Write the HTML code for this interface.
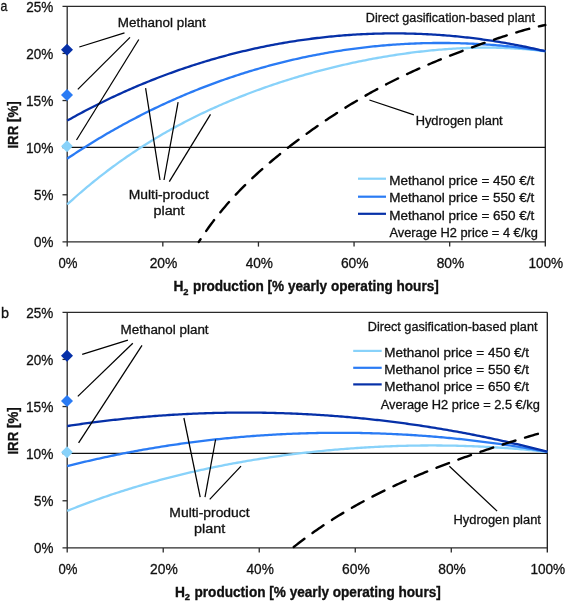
<!DOCTYPE html>
<html><head><meta charset="utf-8"><style>
html,body{margin:0;padding:0;background:#fff;width:567px;height:602px;overflow:hidden}
svg{display:block;will-change:transform}
text{font-family:"Liberation Sans",sans-serif;-webkit-font-smoothing:antialiased}
</style></head><body>
<svg width="567" height="602" viewBox="0 0 567 602" font-family="Liberation Sans, sans-serif">
<rect width="567" height="602" fill="#fff"/>
<line x1="62.5" y1="6.3" x2="545.3" y2="6.3" stroke="#2a2a2a" stroke-width="1.2"/>
<line x1="545.3" y1="6.3" x2="545.3" y2="246.6" stroke="#1a1a1a" stroke-width="1.3"/>
<line x1="67.2" y1="6.3" x2="67.2" y2="246.6" stroke="#2a2a2a" stroke-width="1.3"/>
<line x1="62.5" y1="241.9" x2="545.3" y2="241.9" stroke="#2a2a2a" stroke-width="1.3"/>
<line x1="67.2" y1="147.41" x2="545.3" y2="147.41" stroke="#111" stroke-width="1.15"/>
<line x1="62.5" y1="194.78" x2="67.2" y2="194.78" stroke="#2a2a2a" stroke-width="1.3"/>
<line x1="62.5" y1="147.66000000000003" x2="67.2" y2="147.66000000000003" stroke="#2a2a2a" stroke-width="1.3"/>
<line x1="62.5" y1="100.54000000000002" x2="67.2" y2="100.54000000000002" stroke="#2a2a2a" stroke-width="1.3"/>
<line x1="62.5" y1="53.420000000000016" x2="67.2" y2="53.420000000000016" stroke="#2a2a2a" stroke-width="1.3"/>
<line x1="162.82" y1="241.9" x2="162.82" y2="246.6" stroke="#2a2a2a" stroke-width="1.3"/>
<line x1="258.44" y1="241.9" x2="258.44" y2="246.6" stroke="#2a2a2a" stroke-width="1.3"/>
<line x1="354.05999999999995" y1="241.9" x2="354.05999999999995" y2="246.6" stroke="#2a2a2a" stroke-width="1.3"/>
<line x1="449.67999999999995" y1="241.9" x2="449.67999999999995" y2="246.6" stroke="#2a2a2a" stroke-width="1.3"/>
<text x="33.98" y="247.10" font-size="14.5" textLength="19.40" lengthAdjust="spacingAndGlyphs" fill="#111" stroke="#111" stroke-width="0.3">0%</text>
<text x="33.96" y="199.98" font-size="14.5" textLength="19.42" lengthAdjust="spacingAndGlyphs" fill="#111" stroke="#111" stroke-width="0.3">5%</text>
<text x="25.96" y="152.86" font-size="14.5" textLength="27.43" lengthAdjust="spacingAndGlyphs" fill="#111" stroke="#111" stroke-width="0.3">10%</text>
<text x="25.96" y="105.74" font-size="14.5" textLength="27.43" lengthAdjust="spacingAndGlyphs" fill="#111" stroke="#111" stroke-width="0.3">15%</text>
<text x="26.32" y="58.62" font-size="14.5" textLength="27.06" lengthAdjust="spacingAndGlyphs" fill="#111" stroke="#111" stroke-width="0.3">20%</text>
<text x="26.32" y="11.50" font-size="14.5" textLength="27.06" lengthAdjust="spacingAndGlyphs" fill="#111" stroke="#111" stroke-width="0.3">25%</text>
<text x="58.49" y="268.20" font-size="14.5" textLength="18.98" lengthAdjust="spacingAndGlyphs" fill="#111" stroke="#111" stroke-width="0.3">0%</text>
<text x="149.67" y="268.20" font-size="14.5" textLength="27.69" lengthAdjust="spacingAndGlyphs" fill="#111" stroke="#111" stroke-width="0.3">20%</text>
<text x="245.68" y="268.20" font-size="14.5" textLength="27.30" lengthAdjust="spacingAndGlyphs" fill="#111" stroke="#111" stroke-width="0.3">40%</text>
<text x="340.91" y="268.20" font-size="14.5" textLength="27.70" lengthAdjust="spacingAndGlyphs" fill="#111" stroke="#111" stroke-width="0.3">60%</text>
<text x="436.63" y="268.20" font-size="14.5" textLength="27.59" lengthAdjust="spacingAndGlyphs" fill="#111" stroke="#111" stroke-width="0.3">80%</text>
<text x="528.41" y="268.20" font-size="14.5" textLength="34.82" lengthAdjust="spacingAndGlyphs" fill="#111" stroke="#111" stroke-width="0.3">100%</text>
<path d="M67.20,204.47 L69.20,202.64 L71.20,200.83 L73.20,199.03 L75.20,197.25 L77.20,195.49 L79.20,193.75 L81.20,192.02 L83.20,190.31 L85.20,188.61 L87.20,186.93 L89.20,185.27 L91.20,183.62 L93.20,181.99 L95.20,180.38 L97.20,178.78 L99.20,177.20 L101.20,175.63 L103.20,174.08 L105.20,172.54 L107.20,171.01 L109.20,169.51 L111.20,168.01 L113.20,166.53 L115.20,165.07 L117.20,163.62 L119.20,162.18 L121.20,160.76 L123.20,159.35 L125.20,157.95 L127.20,156.57 L129.20,155.20 L131.20,153.85 L133.20,152.51 L135.20,151.18 L137.20,149.86 L139.20,148.56 L141.20,147.27 L143.20,145.99 L145.20,144.72 L147.20,143.47 L149.20,142.22 L151.20,140.99 L153.20,139.78 L155.20,138.57 L157.20,137.38 L159.20,136.19 L161.20,135.02 L163.20,133.86 L165.20,132.71 L167.20,131.58 L169.20,130.45 L171.20,129.33 L173.20,128.23 L175.20,127.13 L177.20,126.05 L179.20,124.98 L181.20,123.91 L183.20,122.86 L185.20,121.82 L187.20,120.78 L189.20,119.76 L191.20,118.75 L193.20,117.74 L195.20,116.75 L197.20,115.77 L199.20,114.79 L201.20,113.83 L203.20,112.87 L205.20,111.93 L207.20,110.99 L209.20,110.06 L211.20,109.14 L213.20,108.23 L215.20,107.33 L217.20,106.44 L219.20,105.55 L221.20,104.68 L223.20,103.81 L225.20,102.95 L227.20,102.10 L229.20,101.26 L231.20,100.42 L233.20,99.60 L235.20,98.78 L237.20,97.97 L239.20,97.17 L241.20,96.37 L243.20,95.58 L245.20,94.81 L247.20,94.03 L249.20,93.27 L251.20,92.51 L253.20,91.76 L255.20,91.02 L257.20,90.29 L259.20,89.56 L261.20,88.84 L263.20,88.13 L265.20,87.42 L267.20,86.72 L269.20,86.03 L271.20,85.35 L273.20,84.67 L275.20,84.00 L277.20,83.33 L279.20,82.68 L281.20,82.03 L283.20,81.38 L285.20,80.74 L287.20,80.11 L289.20,79.49 L291.20,78.87 L293.20,78.26 L295.20,77.65 L297.20,77.05 L299.20,76.46 L301.20,75.87 L303.20,75.29 L305.20,74.72 L307.20,74.15 L309.20,73.59 L311.20,73.03 L313.20,72.49 L315.20,71.94 L317.20,71.40 L319.20,70.87 L321.20,70.35 L323.20,69.83 L325.20,69.31 L327.20,68.81 L329.20,68.31 L331.20,67.81 L333.20,67.32 L335.20,66.84 L337.20,66.36 L339.20,65.88 L341.20,65.42 L343.20,64.96 L345.20,64.50 L347.20,64.05 L349.20,63.61 L351.20,63.17 L353.20,62.74 L355.20,62.31 L357.20,61.89 L359.20,61.48 L361.20,61.07 L363.20,60.67 L365.20,60.27 L367.20,59.88 L369.20,59.49 L371.20,59.11 L373.20,58.74 L375.20,58.37 L377.20,58.00 L379.20,57.65 L381.20,57.30 L383.20,56.95 L385.20,56.61 L387.20,56.28 L389.20,55.95 L391.20,55.63 L393.20,55.31 L395.20,55.00 L397.20,54.70 L399.20,54.40 L401.20,54.10 L403.20,53.82 L405.20,53.54 L407.20,53.26 L409.20,52.99 L411.20,52.73 L413.20,52.48 L415.20,52.23 L417.20,51.98 L419.20,51.74 L421.20,51.51 L423.20,51.29 L425.20,51.07 L427.20,50.85 L429.20,50.65 L431.20,50.45 L433.20,50.25 L435.20,50.07 L437.20,49.89 L439.20,49.71 L441.20,49.54 L443.20,49.38 L445.20,49.23 L447.20,49.08 L449.20,48.94 L451.20,48.81 L453.20,48.68 L455.20,48.56 L457.20,48.45 L459.20,48.34 L461.20,48.24 L463.20,48.15 L465.20,48.07 L467.20,47.99 L469.20,47.92 L471.20,47.86 L473.20,47.81 L475.20,47.76 L477.20,47.72 L479.20,47.69 L481.20,47.66 L483.20,47.65 L485.20,47.64 L487.20,47.64 L489.20,47.64 L491.20,47.66 L493.20,47.68 L495.20,47.71 L497.20,47.75 L499.20,47.80 L501.20,47.86 L503.20,47.92 L505.20,48.00 L507.20,48.08 L509.20,48.17 L511.20,48.27 L513.20,48.38 L515.20,48.50 L517.20,48.62 L519.20,48.76 L521.20,48.91 L523.20,49.06 L525.20,49.22 L527.20,49.40 L529.20,49.58 L531.20,49.78 L533.20,49.98 L535.20,50.19 L537.20,50.41 L539.20,50.65 L541.20,50.89 L543.20,51.14 L545.20,51.41 L545.30,51.42" fill="none" stroke="#88d2fa" stroke-width="2.3" stroke-linejoin="round"/>
<path d="M67.20,158.67 L69.20,157.33 L71.20,156.00 L73.20,154.68 L75.20,153.37 L77.20,152.06 L79.20,150.77 L81.20,149.48 L83.20,148.21 L85.20,146.94 L87.20,145.69 L89.20,144.44 L91.20,143.20 L93.20,141.97 L95.20,140.75 L97.20,139.54 L99.20,138.33 L101.20,137.14 L103.20,135.96 L105.20,134.78 L107.20,133.61 L109.20,132.45 L111.20,131.30 L113.20,130.16 L115.20,129.03 L117.20,127.91 L119.20,126.79 L121.20,125.68 L123.20,124.59 L125.20,123.50 L127.20,122.42 L129.20,121.34 L131.20,120.28 L133.20,119.22 L135.20,118.18 L137.20,117.14 L139.20,116.11 L141.20,115.08 L143.20,114.07 L145.20,113.06 L147.20,112.07 L149.20,111.08 L151.20,110.09 L153.20,109.12 L155.20,108.16 L157.20,107.20 L159.20,106.25 L161.20,105.31 L163.20,104.38 L165.20,103.45 L167.20,102.53 L169.20,101.62 L171.20,100.72 L173.20,99.83 L175.20,98.94 L177.20,98.07 L179.20,97.20 L181.20,96.33 L183.20,95.48 L185.20,94.63 L187.20,93.79 L189.20,92.96 L191.20,92.14 L193.20,91.32 L195.20,90.51 L197.20,89.71 L199.20,88.92 L201.20,88.13 L203.20,87.35 L205.20,86.58 L207.20,85.82 L209.20,85.06 L211.20,84.31 L213.20,83.57 L215.20,82.83 L217.20,82.11 L219.20,81.39 L221.20,80.67 L223.20,79.97 L225.20,79.27 L227.20,78.58 L229.20,77.90 L231.20,77.22 L233.20,76.55 L235.20,75.89 L237.20,75.23 L239.20,74.59 L241.20,73.95 L243.20,73.31 L245.20,72.68 L247.20,72.07 L249.20,71.45 L251.20,70.85 L253.20,70.25 L255.20,69.66 L257.20,69.07 L259.20,68.49 L261.20,67.92 L263.20,67.36 L265.20,66.80 L267.20,66.25 L269.20,65.71 L271.20,65.17 L273.20,64.64 L275.20,64.12 L277.20,63.60 L279.20,63.09 L281.20,62.59 L283.20,62.09 L285.20,61.60 L287.20,61.12 L289.20,60.64 L291.20,60.17 L293.20,59.71 L295.20,59.25 L297.20,58.80 L299.20,58.36 L301.20,57.92 L303.20,57.49 L305.20,57.06 L307.20,56.65 L309.20,56.24 L311.20,55.83 L313.20,55.43 L315.20,55.04 L317.20,54.66 L319.20,54.28 L321.20,53.91 L323.20,53.54 L325.20,53.18 L327.20,52.83 L329.20,52.48 L331.20,52.14 L333.20,51.81 L335.20,51.48 L337.20,51.16 L339.20,50.85 L341.20,50.54 L343.20,50.23 L345.20,49.94 L347.20,49.65 L349.20,49.37 L351.20,49.09 L353.20,48.82 L355.20,48.55 L357.20,48.30 L359.20,48.04 L361.20,47.80 L363.20,47.56 L365.20,47.32 L367.20,47.10 L369.20,46.88 L371.20,46.66 L373.20,46.45 L375.20,46.25 L377.20,46.05 L379.20,45.86 L381.20,45.68 L383.20,45.50 L385.20,45.33 L387.20,45.16 L389.20,45.00 L391.20,44.85 L393.20,44.70 L395.20,44.56 L397.20,44.42 L399.20,44.29 L401.20,44.17 L403.20,44.05 L405.20,43.94 L407.20,43.84 L409.20,43.74 L411.20,43.65 L413.20,43.56 L415.20,43.48 L417.20,43.40 L419.20,43.33 L421.20,43.27 L423.20,43.22 L425.20,43.16 L427.20,43.12 L429.20,43.08 L431.20,43.05 L433.20,43.02 L435.20,43.00 L437.20,42.99 L439.20,42.98 L441.20,42.98 L443.20,42.98 L445.20,42.99 L447.20,43.00 L449.20,43.02 L451.20,43.05 L453.20,43.09 L455.20,43.12 L457.20,43.17 L459.20,43.22 L461.20,43.28 L463.20,43.34 L465.20,43.41 L467.20,43.49 L469.20,43.57 L471.20,43.65 L473.20,43.75 L475.20,43.85 L477.20,43.95 L479.20,44.06 L481.20,44.18 L483.20,44.30 L485.20,44.43 L487.20,44.57 L489.20,44.71 L491.20,44.86 L493.20,45.01 L495.20,45.17 L497.20,45.34 L499.20,45.51 L501.20,45.69 L503.20,45.87 L505.20,46.06 L507.20,46.25 L509.20,46.46 L511.20,46.66 L513.20,46.88 L515.20,47.10 L517.20,47.32 L519.20,47.56 L521.20,47.79 L523.20,48.04 L525.20,48.29 L527.20,48.54 L529.20,48.81 L531.20,49.08 L533.20,49.35 L535.20,49.63 L537.20,49.92 L539.20,50.21 L541.20,50.51 L543.20,50.82 L545.20,51.13 L545.30,51.14" fill="none" stroke="#2a7bf4" stroke-width="2.3" stroke-linejoin="round"/>
<path d="M67.20,120.62 L69.20,119.50 L71.20,118.38 L73.20,117.28 L75.20,116.18 L77.20,115.09 L79.20,114.02 L81.20,112.94 L83.20,111.88 L85.20,110.82 L87.20,109.78 L89.20,108.74 L91.20,107.71 L93.20,106.68 L95.20,105.67 L97.20,104.66 L99.20,103.66 L101.20,102.67 L103.20,101.69 L105.20,100.71 L107.20,99.75 L109.20,98.79 L111.20,97.83 L113.20,96.89 L115.20,95.95 L117.20,95.03 L119.20,94.10 L121.20,93.19 L123.20,92.29 L125.20,91.39 L127.20,90.50 L129.20,89.61 L131.20,88.74 L133.20,87.87 L135.20,87.01 L137.20,86.16 L139.20,85.31 L141.20,84.48 L143.20,83.65 L145.20,82.82 L147.20,82.01 L149.20,81.20 L151.20,80.40 L153.20,79.61 L155.20,78.82 L157.20,78.04 L159.20,77.27 L161.20,76.51 L163.20,75.75 L165.20,75.00 L167.20,74.26 L169.20,73.52 L171.20,72.80 L173.20,72.08 L175.20,71.36 L177.20,70.66 L179.20,69.96 L181.20,69.26 L183.20,68.58 L185.20,67.90 L187.20,67.23 L189.20,66.57 L191.20,65.91 L193.20,65.26 L195.20,64.62 L197.20,63.98 L199.20,63.35 L201.20,62.73 L203.20,62.11 L205.20,61.50 L207.20,60.90 L209.20,60.31 L211.20,59.72 L213.20,59.14 L215.20,58.56 L217.20,58.00 L219.20,57.44 L221.20,56.88 L223.20,56.33 L225.20,55.79 L227.20,55.26 L229.20,54.73 L231.20,54.21 L233.20,53.70 L235.20,53.19 L237.20,52.69 L239.20,52.20 L241.20,51.71 L243.20,51.23 L245.20,50.76 L247.20,50.29 L249.20,49.83 L251.20,49.38 L253.20,48.93 L255.20,48.49 L257.20,48.05 L259.20,47.63 L261.20,47.20 L263.20,46.79 L265.20,46.38 L267.20,45.98 L269.20,45.58 L271.20,45.19 L273.20,44.81 L275.20,44.44 L277.20,44.07 L279.20,43.70 L281.20,43.35 L283.20,43.00 L285.20,42.65 L287.20,42.31 L289.20,41.98 L291.20,41.66 L293.20,41.34 L295.20,41.03 L297.20,40.72 L299.20,40.42 L301.20,40.13 L303.20,39.84 L305.20,39.56 L307.20,39.29 L309.20,39.02 L311.20,38.76 L313.20,38.51 L315.20,38.26 L317.20,38.01 L319.20,37.78 L321.20,37.55 L323.20,37.32 L325.20,37.11 L327.20,36.89 L329.20,36.69 L331.20,36.49 L333.20,36.30 L335.20,36.11 L337.20,35.93 L339.20,35.76 L341.20,35.59 L343.20,35.43 L345.20,35.27 L347.20,35.12 L349.20,34.98 L351.20,34.85 L353.20,34.71 L355.20,34.59 L357.20,34.47 L359.20,34.36 L361.20,34.26 L363.20,34.16 L365.20,34.06 L367.20,33.98 L369.20,33.89 L371.20,33.82 L373.20,33.75 L375.20,33.69 L377.20,33.63 L379.20,33.58 L381.20,33.54 L383.20,33.50 L385.20,33.47 L387.20,33.44 L389.20,33.42 L391.20,33.41 L393.20,33.40 L395.20,33.40 L397.20,33.41 L399.20,33.42 L401.20,33.44 L403.20,33.46 L405.20,33.49 L407.20,33.53 L409.20,33.57 L411.20,33.62 L413.20,33.68 L415.20,33.74 L417.20,33.80 L419.20,33.88 L421.20,33.96 L423.20,34.04 L425.20,34.13 L427.20,34.23 L429.20,34.34 L431.20,34.45 L433.20,34.56 L435.20,34.69 L437.20,34.82 L439.20,34.95 L441.20,35.09 L443.20,35.24 L445.20,35.40 L447.20,35.56 L449.20,35.72 L451.20,35.90 L453.20,36.07 L455.20,36.26 L457.20,36.45 L459.20,36.65 L461.20,36.85 L463.20,37.06 L465.20,37.28 L467.20,37.50 L469.20,37.73 L471.20,37.97 L473.20,38.21 L475.20,38.46 L477.20,38.71 L479.20,38.98 L481.20,39.24 L483.20,39.52 L485.20,39.80 L487.20,40.08 L489.20,40.38 L491.20,40.67 L493.20,40.98 L495.20,41.29 L497.20,41.61 L499.20,41.94 L501.20,42.27 L503.20,42.60 L505.20,42.95 L507.20,43.30 L509.20,43.66 L511.20,44.02 L513.20,44.39 L515.20,44.77 L517.20,45.15 L519.20,45.54 L521.20,45.94 L523.20,46.34 L525.20,46.75 L527.20,47.16 L529.20,47.59 L531.20,48.01 L533.20,48.45 L535.20,48.89 L537.20,49.34 L539.20,49.80 L541.20,50.26 L543.20,50.73 L545.20,51.20 L545.30,51.23" fill="none" stroke="#0630a8" stroke-width="2.3" stroke-linejoin="round"/>
<path d="M198.80,241.95 L200.80,238.87 L202.80,235.87 L204.80,232.93 L206.80,230.07 L208.80,227.27 L210.80,224.53 L212.80,221.85 L214.80,219.23 L216.80,216.67 L218.80,214.16 L220.80,211.69 L222.80,209.28 L224.80,206.91 L226.80,204.59 L228.80,202.31 L230.80,200.08 L232.80,197.88 L234.80,195.71 L236.80,193.59 L238.80,191.50 L240.80,189.44 L242.80,187.41 L244.80,185.41 L246.80,183.45 L248.80,181.51 L250.80,179.59 L252.80,177.71 L254.80,175.84 L256.80,174.00 L258.80,172.18 L260.80,170.39 L262.80,168.61 L264.80,166.86 L266.80,165.12 L268.80,163.40 L270.80,161.71 L272.80,160.02 L274.80,158.36 L276.80,156.71 L278.80,155.07 L280.80,153.46 L282.80,151.85 L284.80,150.26 L286.80,148.69 L288.80,147.12 L290.80,145.57 L292.80,144.04 L294.80,142.51 L296.80,141.00 L298.80,139.50 L300.80,138.01 L302.80,136.54 L304.80,135.07 L306.80,133.62 L308.80,132.18 L310.80,130.75 L312.80,129.33 L314.80,127.92 L316.80,126.52 L318.80,125.13 L320.80,123.75 L322.80,122.38 L324.80,121.03 L326.80,119.68 L328.80,118.34 L330.80,117.02 L332.80,115.70 L334.80,114.40 L336.80,113.10 L338.80,111.82 L340.80,110.54 L342.80,109.28 L344.80,108.02 L346.80,106.78 L348.80,105.55 L350.80,104.32 L352.80,103.11 L354.80,101.91 L356.80,100.72 L358.80,99.53 L360.80,98.36 L362.80,97.20 L364.80,96.05 L366.80,94.91 L368.80,93.78 L370.80,92.66 L372.80,91.55 L374.80,90.45 L376.80,89.36 L378.80,88.28 L380.80,87.21 L382.80,86.15 L384.80,85.10 L386.80,84.06 L388.80,83.03 L390.80,82.01 L392.80,81.00 L394.80,80.00 L396.80,79.01 L398.80,78.02 L400.80,77.05 L402.80,76.09 L404.80,75.13 L406.80,74.19 L408.80,73.25 L410.80,72.32 L412.80,71.40 L414.80,70.49 L416.80,69.59 L418.80,68.70 L420.80,67.81 L422.80,66.93 L424.80,66.06 L426.80,65.20 L428.80,64.34 L430.80,63.49 L432.80,62.65 L434.80,61.82 L436.80,60.99 L438.80,60.17 L440.80,59.35 L442.80,58.54 L444.80,57.74 L446.80,56.95 L448.80,56.15 L450.80,55.37 L452.80,54.59 L454.80,53.82 L456.80,53.05 L458.80,52.28 L460.80,51.53 L462.80,50.77 L464.80,50.02 L466.80,49.28 L468.80,48.54 L470.80,47.80 L472.80,47.07 L474.80,46.35 L476.80,45.63 L478.80,44.91 L480.80,44.20 L482.80,43.49 L484.80,42.79 L486.80,42.09 L488.80,41.39 L490.80,40.70 L492.80,40.02 L494.80,39.34 L496.80,38.66 L498.80,38.00 L500.80,37.33 L502.80,36.68 L504.80,36.03 L506.80,35.38 L508.80,34.74 L510.80,34.12 L512.80,33.49 L514.80,32.88 L516.80,32.28 L518.80,31.68 L520.80,31.10 L522.80,30.52 L524.80,29.96 L526.80,29.41 L528.80,28.87 L530.80,28.34 L532.80,27.83 L534.80,27.34 L536.80,26.86 L538.80,26.40 L540.80,25.96 L542.80,25.54 L544.80,25.14 L545.30,25.04" fill="none" stroke="#000" stroke-width="2.4" stroke-linecap="round" stroke-dasharray="13.4 10.0" stroke-dashoffset="10.1"/>
<path d="M61.00,49.65 L67.00,43.65 L73.00,49.65 L67.00,55.65 Z" fill="#0630a8"/>
<path d="M61.00,94.89 L67.00,88.89 L73.00,94.89 L67.00,100.89 Z" fill="#2a7bf4"/>
<path d="M61.10,146.25 L67.00,140.35 L72.90,146.25 L67.00,152.15 Z" fill="#88d2fa"/>
<line x1="62.5" y1="312.3" x2="547.3" y2="312.3" stroke="#2a2a2a" stroke-width="1.2"/>
<line x1="547.3" y1="312.3" x2="547.3" y2="552.6" stroke="#1a1a1a" stroke-width="1.3"/>
<line x1="67.2" y1="312.3" x2="67.2" y2="552.6" stroke="#2a2a2a" stroke-width="1.3"/>
<line x1="62.5" y1="547.9" x2="547.3" y2="547.9" stroke="#2a2a2a" stroke-width="1.3"/>
<line x1="67.2" y1="453.41" x2="547.3" y2="453.41" stroke="#111" stroke-width="1.15"/>
<line x1="62.5" y1="500.78" x2="67.2" y2="500.78" stroke="#2a2a2a" stroke-width="1.3"/>
<line x1="62.5" y1="453.65999999999997" x2="67.2" y2="453.65999999999997" stroke="#2a2a2a" stroke-width="1.3"/>
<line x1="62.5" y1="406.53999999999996" x2="67.2" y2="406.53999999999996" stroke="#2a2a2a" stroke-width="1.3"/>
<line x1="62.5" y1="359.41999999999996" x2="67.2" y2="359.41999999999996" stroke="#2a2a2a" stroke-width="1.3"/>
<line x1="163.21999999999997" y1="547.9" x2="163.21999999999997" y2="552.6" stroke="#2a2a2a" stroke-width="1.3"/>
<line x1="259.23999999999995" y1="547.9" x2="259.23999999999995" y2="552.6" stroke="#2a2a2a" stroke-width="1.3"/>
<line x1="355.25999999999993" y1="547.9" x2="355.25999999999993" y2="552.6" stroke="#2a2a2a" stroke-width="1.3"/>
<line x1="451.2799999999999" y1="547.9" x2="451.2799999999999" y2="552.6" stroke="#2a2a2a" stroke-width="1.3"/>
<text x="33.98" y="553.10" font-size="14.5" textLength="19.40" lengthAdjust="spacingAndGlyphs" fill="#111" stroke="#111" stroke-width="0.3">0%</text>
<text x="33.96" y="505.98" font-size="14.5" textLength="19.42" lengthAdjust="spacingAndGlyphs" fill="#111" stroke="#111" stroke-width="0.3">5%</text>
<text x="25.96" y="458.86" font-size="14.5" textLength="27.43" lengthAdjust="spacingAndGlyphs" fill="#111" stroke="#111" stroke-width="0.3">10%</text>
<text x="25.96" y="411.74" font-size="14.5" textLength="27.43" lengthAdjust="spacingAndGlyphs" fill="#111" stroke="#111" stroke-width="0.3">15%</text>
<text x="26.32" y="364.62" font-size="14.5" textLength="27.06" lengthAdjust="spacingAndGlyphs" fill="#111" stroke="#111" stroke-width="0.3">20%</text>
<text x="26.32" y="317.50" font-size="14.5" textLength="27.06" lengthAdjust="spacingAndGlyphs" fill="#111" stroke="#111" stroke-width="0.3">25%</text>
<text x="58.49" y="574.20" font-size="14.5" textLength="18.98" lengthAdjust="spacingAndGlyphs" fill="#111" stroke="#111" stroke-width="0.3">0%</text>
<text x="150.07" y="574.20" font-size="14.5" textLength="27.69" lengthAdjust="spacingAndGlyphs" fill="#111" stroke="#111" stroke-width="0.3">20%</text>
<text x="246.48" y="574.20" font-size="14.5" textLength="27.30" lengthAdjust="spacingAndGlyphs" fill="#111" stroke="#111" stroke-width="0.3">40%</text>
<text x="342.11" y="574.20" font-size="14.5" textLength="27.70" lengthAdjust="spacingAndGlyphs" fill="#111" stroke="#111" stroke-width="0.3">60%</text>
<text x="438.23" y="574.20" font-size="14.5" textLength="27.59" lengthAdjust="spacingAndGlyphs" fill="#111" stroke="#111" stroke-width="0.3">80%</text>
<text x="530.41" y="574.20" font-size="14.5" textLength="34.82" lengthAdjust="spacingAndGlyphs" fill="#111" stroke="#111" stroke-width="0.3">100%</text>
<path d="M67.20,510.88 L69.20,510.08 L71.20,509.29 L73.20,508.50 L75.20,507.72 L77.20,506.94 L79.20,506.17 L81.20,505.41 L83.20,504.65 L85.20,503.90 L87.20,503.16 L89.20,502.42 L91.20,501.69 L93.20,500.96 L95.20,500.24 L97.20,499.53 L99.20,498.82 L101.20,498.12 L103.20,497.42 L105.20,496.73 L107.20,496.05 L109.20,495.37 L111.20,494.70 L113.20,494.03 L115.20,493.37 L117.20,492.72 L119.20,492.07 L121.20,491.43 L123.20,490.79 L125.20,490.15 L127.20,489.53 L129.20,488.91 L131.20,488.29 L133.20,487.68 L135.20,487.07 L137.20,486.48 L139.20,485.88 L141.20,485.29 L143.20,484.71 L145.20,484.13 L147.20,483.56 L149.20,482.99 L151.20,482.43 L153.20,481.87 L155.20,481.32 L157.20,480.77 L159.20,480.23 L161.20,479.69 L163.20,479.16 L165.20,478.63 L167.20,478.11 L169.20,477.59 L171.20,477.08 L173.20,476.57 L175.20,476.06 L177.20,475.57 L179.20,475.07 L181.20,474.58 L183.20,474.10 L185.20,473.62 L187.20,473.15 L189.20,472.68 L191.20,472.21 L193.20,471.75 L195.20,471.30 L197.20,470.84 L199.20,470.40 L201.20,469.96 L203.20,469.52 L205.20,469.08 L207.20,468.66 L209.20,468.23 L211.20,467.81 L213.20,467.40 L215.20,466.99 L217.20,466.58 L219.20,466.18 L221.20,465.78 L223.20,465.38 L225.20,464.99 L227.20,464.61 L229.20,464.23 L231.20,463.85 L233.20,463.48 L235.20,463.11 L237.20,462.75 L239.20,462.39 L241.20,462.03 L243.20,461.68 L245.20,461.33 L247.20,460.99 L249.20,460.65 L251.20,460.31 L253.20,459.98 L255.20,459.65 L257.20,459.33 L259.20,459.01 L261.20,458.70 L263.20,458.38 L265.20,458.08 L267.20,457.77 L269.20,457.47 L271.20,457.18 L273.20,456.89 L275.20,456.60 L277.20,456.31 L279.20,456.03 L281.20,455.76 L283.20,455.48 L285.20,455.22 L287.20,454.95 L289.20,454.69 L291.20,454.43 L293.20,454.18 L295.20,453.93 L297.20,453.68 L299.20,453.44 L301.20,453.20 L303.20,452.97 L305.20,452.74 L307.20,452.51 L309.20,452.28 L311.20,452.06 L313.20,451.85 L315.20,451.64 L317.20,451.43 L319.20,451.22 L321.20,451.02 L323.20,450.82 L325.20,450.63 L327.20,450.44 L329.20,450.25 L331.20,450.07 L333.20,449.89 L335.20,449.71 L337.20,449.54 L339.20,449.37 L341.20,449.20 L343.20,449.04 L345.20,448.88 L347.20,448.73 L349.20,448.58 L351.20,448.43 L353.20,448.29 L355.20,448.15 L357.20,448.01 L359.20,447.88 L361.20,447.75 L363.20,447.62 L365.20,447.50 L367.20,447.38 L369.20,447.26 L371.20,447.15 L373.20,447.04 L375.20,446.94 L377.20,446.84 L379.20,446.74 L381.20,446.65 L383.20,446.56 L385.20,446.47 L387.20,446.39 L389.20,446.31 L391.20,446.23 L393.20,446.16 L395.20,446.09 L397.20,446.02 L399.20,445.96 L401.20,445.90 L403.20,445.85 L405.20,445.80 L407.20,445.75 L409.20,445.71 L411.20,445.67 L413.20,445.63 L415.20,445.60 L417.20,445.57 L419.20,445.54 L421.20,445.52 L423.20,445.50 L425.20,445.49 L427.20,445.48 L429.20,445.47 L431.20,445.47 L433.20,445.47 L435.20,445.47 L437.20,445.48 L439.20,445.49 L441.20,445.51 L443.20,445.53 L445.20,445.55 L447.20,445.57 L449.20,445.60 L451.20,445.64 L453.20,445.68 L455.20,445.72 L457.20,445.76 L459.20,445.81 L461.20,445.86 L463.20,445.92 L465.20,445.98 L467.20,446.04 L469.20,446.11 L471.20,446.18 L473.20,446.26 L475.20,446.34 L477.20,446.42 L479.20,446.51 L481.20,446.60 L483.20,446.70 L485.20,446.80 L487.20,446.90 L489.20,447.01 L491.20,447.12 L493.20,447.24 L495.20,447.36 L497.20,447.48 L499.20,447.61 L501.20,447.74 L503.20,447.88 L505.20,448.02 L507.20,448.16 L509.20,448.31 L511.20,448.46 L513.20,448.62 L515.20,448.78 L517.20,448.95 L519.20,449.12 L521.20,449.29 L523.20,449.47 L525.20,449.65 L527.20,449.84 L529.20,450.03 L531.20,450.23 L533.20,450.43 L535.20,450.63 L537.20,450.84 L539.20,451.05 L541.20,451.27 L543.20,451.49 L545.20,451.72 L547.20,451.95 L547.30,451.96" fill="none" stroke="#88d2fa" stroke-width="2.3" stroke-linejoin="round"/>
<path d="M67.20,466.18 L69.20,465.67 L71.20,465.16 L73.20,464.65 L75.20,464.15 L77.20,463.66 L79.20,463.17 L81.20,462.68 L83.20,462.20 L85.20,461.73 L87.20,461.25 L89.20,460.78 L91.20,460.32 L93.20,459.86 L95.20,459.41 L97.20,458.95 L99.20,458.51 L101.20,458.06 L103.20,457.63 L105.20,457.19 L107.20,456.76 L109.20,456.34 L111.20,455.92 L113.20,455.50 L115.20,455.08 L117.20,454.68 L119.20,454.27 L121.20,453.87 L123.20,453.47 L125.20,453.08 L127.20,452.69 L129.20,452.31 L131.20,451.93 L133.20,451.55 L135.20,451.18 L137.20,450.81 L139.20,450.45 L141.20,450.09 L143.20,449.73 L145.20,449.38 L147.20,449.03 L149.20,448.69 L151.20,448.35 L153.20,448.01 L155.20,447.68 L157.20,447.35 L159.20,447.02 L161.20,446.70 L163.20,446.39 L165.20,446.07 L167.20,445.76 L169.20,445.46 L171.20,445.16 L173.20,444.86 L175.20,444.57 L177.20,444.28 L179.20,443.99 L181.20,443.71 L183.20,443.43 L185.20,443.15 L187.20,442.88 L189.20,442.61 L191.20,442.35 L193.20,442.09 L195.20,441.84 L197.20,441.58 L199.20,441.33 L201.20,441.09 L203.20,440.85 L205.20,440.61 L207.20,440.38 L209.20,440.15 L211.20,439.92 L213.20,439.70 L215.20,439.48 L217.20,439.26 L219.20,439.05 L221.20,438.84 L223.20,438.64 L225.20,438.44 L227.20,438.24 L229.20,438.05 L231.20,437.86 L233.20,437.67 L235.20,437.49 L237.20,437.31 L239.20,437.13 L241.20,436.96 L243.20,436.79 L245.20,436.62 L247.20,436.46 L249.20,436.30 L251.20,436.15 L253.20,436.00 L255.20,435.85 L257.20,435.71 L259.20,435.57 L261.20,435.43 L263.20,435.30 L265.20,435.17 L267.20,435.04 L269.20,434.92 L271.20,434.80 L273.20,434.68 L275.20,434.57 L277.20,434.46 L279.20,434.36 L281.20,434.25 L283.20,434.15 L285.20,434.06 L287.20,433.97 L289.20,433.88 L291.20,433.80 L293.20,433.71 L295.20,433.64 L297.20,433.56 L299.20,433.49 L301.20,433.42 L303.20,433.36 L305.20,433.30 L307.20,433.24 L309.20,433.19 L311.20,433.14 L313.20,433.09 L315.20,433.05 L317.20,433.01 L319.20,432.97 L321.20,432.94 L323.20,432.91 L325.20,432.88 L327.20,432.86 L329.20,432.84 L331.20,432.83 L333.20,432.81 L335.20,432.80 L337.20,432.80 L339.20,432.80 L341.20,432.80 L343.20,432.80 L345.20,432.81 L347.20,432.82 L349.20,432.84 L351.20,432.86 L353.20,432.88 L355.20,432.90 L357.20,432.93 L359.20,432.96 L361.20,433.00 L363.20,433.04 L365.20,433.08 L367.20,433.13 L369.20,433.18 L371.20,433.23 L373.20,433.29 L375.20,433.35 L377.20,433.41 L379.20,433.47 L381.20,433.54 L383.20,433.62 L385.20,433.70 L387.20,433.78 L389.20,433.86 L391.20,433.95 L393.20,434.04 L395.20,434.13 L397.20,434.23 L399.20,434.33 L401.20,434.44 L403.20,434.54 L405.20,434.65 L407.20,434.77 L409.20,434.89 L411.20,435.01 L413.20,435.14 L415.20,435.27 L417.20,435.40 L419.20,435.53 L421.20,435.67 L423.20,435.82 L425.20,435.96 L427.20,436.11 L429.20,436.27 L431.20,436.42 L433.20,436.59 L435.20,436.75 L437.20,436.92 L439.20,437.09 L441.20,437.26 L443.20,437.44 L445.20,437.63 L447.20,437.81 L449.20,438.00 L451.20,438.19 L453.20,438.39 L455.20,438.59 L457.20,438.80 L459.20,439.00 L461.20,439.21 L463.20,439.43 L465.20,439.65 L467.20,439.87 L469.20,440.10 L471.20,440.32 L473.20,440.56 L475.20,440.79 L477.20,441.04 L479.20,441.28 L481.20,441.53 L483.20,441.78 L485.20,442.03 L487.20,442.29 L489.20,442.56 L491.20,442.82 L493.20,443.09 L495.20,443.37 L497.20,443.65 L499.20,443.93 L501.20,444.21 L503.20,444.50 L505.20,444.80 L507.20,445.09 L509.20,445.39 L511.20,445.70 L513.20,446.01 L515.20,446.32 L517.20,446.64 L519.20,446.96 L521.20,447.28 L523.20,447.61 L525.20,447.94 L527.20,448.28 L529.20,448.62 L531.20,448.96 L533.20,449.31 L535.20,449.66 L537.20,450.01 L539.20,450.37 L541.20,450.74 L543.20,451.11 L545.20,451.48 L547.20,451.85 L547.30,451.87" fill="none" stroke="#2a7bf4" stroke-width="2.3" stroke-linejoin="round"/>
<path d="M67.20,426.06 L69.20,425.76 L71.20,425.46 L73.20,425.16 L75.20,424.87 L77.20,424.58 L79.20,424.29 L81.20,424.01 L83.20,423.73 L85.20,423.46 L87.20,423.18 L89.20,422.91 L91.20,422.65 L93.20,422.39 L95.20,422.13 L97.20,421.88 L99.20,421.62 L101.20,421.38 L103.20,421.13 L105.20,420.89 L107.20,420.65 L109.20,420.42 L111.20,420.19 L113.20,419.96 L115.20,419.74 L117.20,419.52 L119.20,419.30 L121.20,419.09 L123.20,418.88 L125.20,418.68 L127.20,418.47 L129.20,418.28 L131.20,418.08 L133.20,417.89 L135.20,417.70 L137.20,417.51 L139.20,417.33 L141.20,417.15 L143.20,416.98 L145.20,416.81 L147.20,416.64 L149.20,416.48 L151.20,416.31 L153.20,416.16 L155.20,416.00 L157.20,415.85 L159.20,415.70 L161.20,415.56 L163.20,415.42 L165.20,415.28 L167.20,415.15 L169.20,415.02 L171.20,414.89 L173.20,414.77 L175.20,414.65 L177.20,414.53 L179.20,414.42 L181.20,414.31 L183.20,414.20 L185.20,414.10 L187.20,414.00 L189.20,413.90 L191.20,413.81 L193.20,413.72 L195.20,413.64 L197.20,413.55 L199.20,413.47 L201.20,413.40 L203.20,413.33 L205.20,413.26 L207.20,413.19 L209.20,413.13 L211.20,413.07 L213.20,413.02 L215.20,412.96 L217.20,412.92 L219.20,412.87 L221.20,412.83 L223.20,412.79 L225.20,412.76 L227.20,412.72 L229.20,412.70 L231.20,412.67 L233.20,412.65 L235.20,412.63 L237.20,412.62 L239.20,412.60 L241.20,412.60 L243.20,412.59 L245.20,412.59 L247.20,412.59 L249.20,412.60 L251.20,412.61 L253.20,412.62 L255.20,412.64 L257.20,412.65 L259.20,412.68 L261.20,412.70 L263.20,412.73 L265.20,412.76 L267.20,412.80 L269.20,412.84 L271.20,412.88 L273.20,412.93 L275.20,412.98 L277.20,413.03 L279.20,413.09 L281.20,413.15 L283.20,413.21 L285.20,413.28 L287.20,413.35 L289.20,413.42 L291.20,413.50 L293.20,413.58 L295.20,413.66 L297.20,413.75 L299.20,413.84 L301.20,413.93 L303.20,414.03 L305.20,414.13 L307.20,414.23 L309.20,414.34 L311.20,414.45 L313.20,414.56 L315.20,414.68 L317.20,414.80 L319.20,414.92 L321.20,415.05 L323.20,415.18 L325.20,415.31 L327.20,415.45 L329.20,415.59 L331.20,415.74 L333.20,415.88 L335.20,416.04 L337.20,416.19 L339.20,416.35 L341.20,416.51 L343.20,416.67 L345.20,416.84 L347.20,417.01 L349.20,417.19 L351.20,417.37 L353.20,417.55 L355.20,417.73 L357.20,417.92 L359.20,418.11 L361.20,418.31 L363.20,418.51 L365.20,418.71 L367.20,418.91 L369.20,419.12 L371.20,419.34 L373.20,419.55 L375.20,419.77 L377.20,419.99 L379.20,420.22 L381.20,420.45 L383.20,420.68 L385.20,420.92 L387.20,421.16 L389.20,421.40 L391.20,421.65 L393.20,421.90 L395.20,422.15 L397.20,422.41 L399.20,422.67 L401.20,422.93 L403.20,423.20 L405.20,423.47 L407.20,423.75 L409.20,424.02 L411.20,424.30 L413.20,424.59 L415.20,424.88 L417.20,425.17 L419.20,425.46 L421.20,425.76 L423.20,426.06 L425.20,426.37 L427.20,426.68 L429.20,426.99 L431.20,427.31 L433.20,427.63 L435.20,427.95 L437.20,428.28 L439.20,428.61 L441.20,428.94 L443.20,429.28 L445.20,429.62 L447.20,429.96 L449.20,430.31 L451.20,430.66 L453.20,431.01 L455.20,431.37 L457.20,431.73 L459.20,432.10 L461.20,432.47 L463.20,432.84 L465.20,433.21 L467.20,433.59 L469.20,433.98 L471.20,434.36 L473.20,434.75 L475.20,435.15 L477.20,435.54 L479.20,435.94 L481.20,436.35 L483.20,436.75 L485.20,437.17 L487.20,437.58 L489.20,438.00 L491.20,438.42 L493.20,438.85 L495.20,439.28 L497.20,439.71 L499.20,440.14 L501.20,440.58 L503.20,441.03 L505.20,441.47 L507.20,441.93 L509.20,442.38 L511.20,442.84 L513.20,443.30 L515.20,443.76 L517.20,444.23 L519.20,444.71 L521.20,445.18 L523.20,445.66 L525.20,446.14 L527.20,446.63 L529.20,447.12 L531.20,447.62 L533.20,448.11 L535.20,448.62 L537.20,449.12 L539.20,449.63 L541.20,450.14 L543.20,450.66 L545.20,451.18 L547.20,451.70 L547.30,451.73" fill="none" stroke="#0630a8" stroke-width="2.3" stroke-linejoin="round"/>
<path d="M292.80,547.70 L294.80,546.13 L296.80,544.58 L298.80,543.04 L300.80,541.52 L302.80,540.02 L304.80,538.53 L306.80,537.06 L308.80,535.60 L310.80,534.17 L312.80,532.74 L314.80,531.34 L316.80,529.94 L318.80,528.57 L320.80,527.21 L322.80,525.86 L324.80,524.53 L326.80,523.21 L328.80,521.90 L330.80,520.61 L332.80,519.34 L334.80,518.07 L336.80,516.82 L338.80,515.59 L340.80,514.36 L342.80,513.15 L344.80,511.95 L346.80,510.77 L348.80,509.59 L350.80,508.43 L352.80,507.28 L354.80,506.15 L356.80,505.02 L358.80,503.90 L360.80,502.80 L362.80,501.71 L364.80,500.63 L366.80,499.56 L368.80,498.49 L370.80,497.44 L372.80,496.40 L374.80,495.37 L376.80,494.36 L378.80,493.34 L380.80,492.34 L382.80,491.35 L384.80,490.37 L386.80,489.40 L388.80,488.44 L390.80,487.48 L392.80,486.54 L394.80,485.60 L396.80,484.67 L398.80,483.75 L400.80,482.84 L402.80,481.93 L404.80,481.04 L406.80,480.15 L408.80,479.27 L410.80,478.39 L412.80,477.53 L414.80,476.67 L416.80,475.82 L418.80,474.97 L420.80,474.13 L422.80,473.30 L424.80,472.48 L426.80,471.66 L428.80,470.85 L430.80,470.05 L432.80,469.25 L434.80,468.46 L436.80,467.67 L438.80,466.89 L440.80,466.11 L442.80,465.34 L444.80,464.58 L446.80,463.82 L448.80,463.07 L450.80,462.32 L452.80,461.58 L454.80,460.85 L456.80,460.11 L458.80,459.39 L460.80,458.66 L462.80,457.95 L464.80,457.23 L466.80,456.53 L468.80,455.82 L470.80,455.12 L472.80,454.43 L474.80,453.74 L476.80,453.05 L478.80,452.37 L480.80,451.69 L482.80,451.02 L484.80,450.35 L486.80,449.68 L488.80,449.02 L490.80,448.36 L492.80,447.71 L494.80,447.06 L496.80,446.41 L498.80,445.76 L500.80,445.12 L502.80,444.49 L504.80,443.85 L506.80,443.22 L508.80,442.59 L510.80,441.97 L512.80,441.35 L514.80,440.73 L516.80,440.12 L518.80,439.50 L520.80,438.90 L522.80,438.29 L524.80,437.69 L526.80,437.09 L528.80,436.49 L530.80,435.89 L532.80,435.30 L534.80,434.71 L536.80,434.13 L538.80,433.54 L540.80,432.96 L542.80,432.38 L544.80,431.81 L546.80,431.24 L547.30,431.09" fill="none" stroke="#000" stroke-width="2.4" stroke-linecap="round" stroke-dasharray="13.4 10.0" stroke-dashoffset="22.2"/>
<path d="M61.00,355.65 L67.00,349.65 L73.00,355.65 L67.00,361.65 Z" fill="#0630a8"/>
<path d="M61.00,400.89 L67.00,394.89 L73.00,400.89 L67.00,406.89 Z" fill="#2a7bf4"/>
<path d="M61.10,452.25 L67.00,446.35 L72.90,452.25 L67.00,458.15 Z" fill="#88d2fa"/>
<text x="0.54" y="11.40" font-size="14.5" textLength="6.86" lengthAdjust="spacingAndGlyphs" fill="#111" stroke="#111" stroke-width="0.3">a</text>
<text x="0.97" y="318.00" font-size="14.5" textLength="8.04" lengthAdjust="spacingAndGlyphs" fill="#111" stroke="#111" stroke-width="0.3">b</text>
<text x="173.48" y="291.40" font-size="14.5" font-weight="bold" textLength="9.95" lengthAdjust="spacingAndGlyphs" fill="#111" stroke="#111" stroke-width="0.35">H</text>
<text x="183.18" y="294.70" font-size="9.5" font-weight="bold" textLength="5.20" lengthAdjust="spacingAndGlyphs" fill="#111" stroke="#111" stroke-width="0.35">2</text>
<text x="192.91" y="291.40" font-size="14.5" font-weight="bold" textLength="245.86" lengthAdjust="spacingAndGlyphs" fill="#111" stroke="#111" stroke-width="0.35">production [% yearly operating hours]</text>
<g transform="translate(17.9,124.90) rotate(-90)">
<text x="-23.69" y="0" font-size="14.5" font-weight="bold" textLength="47.23" lengthAdjust="spacingAndGlyphs" fill="#111" stroke="#111" stroke-width="0.35">IRR [%]</text></g>
<text x="174.98" y="597.10" font-size="14.5" font-weight="bold" textLength="9.95" lengthAdjust="spacingAndGlyphs" fill="#111" stroke="#111" stroke-width="0.35">H</text>
<text x="184.68" y="600.40" font-size="9.5" font-weight="bold" textLength="5.20" lengthAdjust="spacingAndGlyphs" fill="#111" stroke="#111" stroke-width="0.35">2</text>
<text x="194.50" y="597.10" font-size="14.5" font-weight="bold" textLength="246.26" lengthAdjust="spacingAndGlyphs" fill="#111" stroke="#111" stroke-width="0.35">production [% yearly operating hours]</text>
<g transform="translate(17.9,430.90) rotate(-90)">
<text x="-23.69" y="0" font-size="14.5" font-weight="bold" textLength="47.23" lengthAdjust="spacingAndGlyphs" fill="#111" stroke="#111" stroke-width="0.35">IRR [%]</text></g>
<text x="117.80" y="26.60" font-size="12.5" textLength="88.00" lengthAdjust="spacingAndGlyphs" fill="#111" stroke="#111" stroke-width="0.3">Methanol plant</text>
<text x="128.66" y="199.00" font-size="12.5" textLength="80.24" lengthAdjust="spacingAndGlyphs" fill="#111" stroke="#111" stroke-width="0.3">Multi-product</text>
<text x="153.47" y="215.20" font-size="12.5" textLength="31.13" lengthAdjust="spacingAndGlyphs" fill="#111" stroke="#111" stroke-width="0.3">plant</text>
<text x="365.86" y="21.60" font-size="12.5" textLength="169.13" lengthAdjust="spacingAndGlyphs" fill="#111" stroke="#111" stroke-width="0.3">Direct gasification-based plant</text>
<text x="415.65" y="124.80" font-size="12.5" textLength="87.05" lengthAdjust="spacingAndGlyphs" fill="#111" stroke="#111" stroke-width="0.3">Hydrogen plant</text>
<line x1="79.3" y1="47" x2="124.5" y2="32.9" stroke="#000" stroke-width="1.25"/>
<line x1="77.8" y1="89.4" x2="130" y2="37.4" stroke="#000" stroke-width="1.25"/>
<line x1="76.5" y1="140" x2="138.8" y2="39.5" stroke="#000" stroke-width="1.25"/>
<line x1="145.6" y1="88.1" x2="160" y2="180" stroke="#000" stroke-width="1.25"/>
<line x1="178.1" y1="102.1" x2="164" y2="180" stroke="#000" stroke-width="1.25"/>
<line x1="210.5" y1="114.4" x2="169.3" y2="181.6" stroke="#000" stroke-width="1.25"/>
<line x1="369.4" y1="100" x2="413.9" y2="114.8" stroke="#000" stroke-width="1.25"/>
<line x1="358" y1="178.7" x2="386" y2="178.7" stroke="#88d2fa" stroke-width="2.2"/>
<line x1="358" y1="196.7" x2="386" y2="196.7" stroke="#2a7bf4" stroke-width="2.2"/>
<line x1="358" y1="213.8" x2="386" y2="213.8" stroke="#0630a8" stroke-width="2.2"/>
<text x="389.19" y="184.80" font-size="12.5" textLength="145.11" lengthAdjust="spacingAndGlyphs" fill="#111" stroke="#111" stroke-width="0.3">Methanol price = 450 €/t</text>
<text x="389.19" y="202.20" font-size="12.5" textLength="145.11" lengthAdjust="spacingAndGlyphs" fill="#111" stroke="#111" stroke-width="0.3">Methanol price = 550 €/t</text>
<text x="389.19" y="219.60" font-size="12.5" textLength="145.11" lengthAdjust="spacingAndGlyphs" fill="#111" stroke="#111" stroke-width="0.3">Methanol price = 650 €/t</text>
<text x="389.48" y="237.20" font-size="12.5" textLength="148.35" lengthAdjust="spacingAndGlyphs" fill="#111" stroke="#111" stroke-width="0.3">Average H2 price = 4 €/kg</text>
<text x="120.60" y="333.50" font-size="12.5" textLength="88.00" lengthAdjust="spacingAndGlyphs" fill="#111" stroke="#111" stroke-width="0.3">Methanol plant</text>
<text x="169.36" y="516.70" font-size="12.5" textLength="80.24" lengthAdjust="spacingAndGlyphs" fill="#111" stroke="#111" stroke-width="0.3">Multi-product</text>
<text x="193.97" y="533.20" font-size="12.5" textLength="31.23" lengthAdjust="spacingAndGlyphs" fill="#111" stroke="#111" stroke-width="0.3">plant</text>
<text x="367.76" y="330.90" font-size="12.5" textLength="169.73" lengthAdjust="spacingAndGlyphs" fill="#111" stroke="#111" stroke-width="0.3">Direct gasification-based plant</text>
<text x="453.54" y="524.30" font-size="12.5" textLength="87.35" lengthAdjust="spacingAndGlyphs" fill="#111" stroke="#111" stroke-width="0.3">Hydrogen plant</text>
<line x1="82.2" y1="354.4" x2="127.9" y2="340.1" stroke="#000" stroke-width="1.25"/>
<line x1="77.8" y1="396.4" x2="132.8" y2="343.3" stroke="#000" stroke-width="1.25"/>
<line x1="78.6" y1="442.9" x2="142" y2="345.3" stroke="#000" stroke-width="1.25"/>
<line x1="183.9" y1="418" x2="200.2" y2="497.2" stroke="#000" stroke-width="1.25"/>
<line x1="215.6" y1="439.5" x2="205" y2="497.2" stroke="#000" stroke-width="1.25"/>
<line x1="241" y1="466.1" x2="209.7" y2="499.4" stroke="#000" stroke-width="1.25"/>
<line x1="449.4" y1="466.3" x2="497.1" y2="511.1" stroke="#000" stroke-width="1.25"/>
<line x1="353.2" y1="350.9" x2="381.7" y2="350.9" stroke="#88d2fa" stroke-width="2.2"/>
<line x1="353.2" y1="367.8" x2="381.7" y2="367.8" stroke="#2a7bf4" stroke-width="2.2"/>
<line x1="353.2" y1="384.4" x2="381.7" y2="384.4" stroke="#0630a8" stroke-width="2.2"/>
<text x="384.30" y="356.80" font-size="12.5" textLength="144.80" lengthAdjust="spacingAndGlyphs" fill="#111" stroke="#111" stroke-width="0.3">Methanol price = 450 €/t</text>
<text x="384.30" y="373.70" font-size="12.5" textLength="144.80" lengthAdjust="spacingAndGlyphs" fill="#111" stroke="#111" stroke-width="0.3">Methanol price = 550 €/t</text>
<text x="384.30" y="390.50" font-size="12.5" textLength="144.80" lengthAdjust="spacingAndGlyphs" fill="#111" stroke="#111" stroke-width="0.3">Methanol price = 650 €/t</text>
<text x="380.77" y="409.10" font-size="12.5" textLength="159.05" lengthAdjust="spacingAndGlyphs" fill="#111" stroke="#111" stroke-width="0.3">Average H2 price = 2.5 €/kg</text>
</svg>
</body></html>
